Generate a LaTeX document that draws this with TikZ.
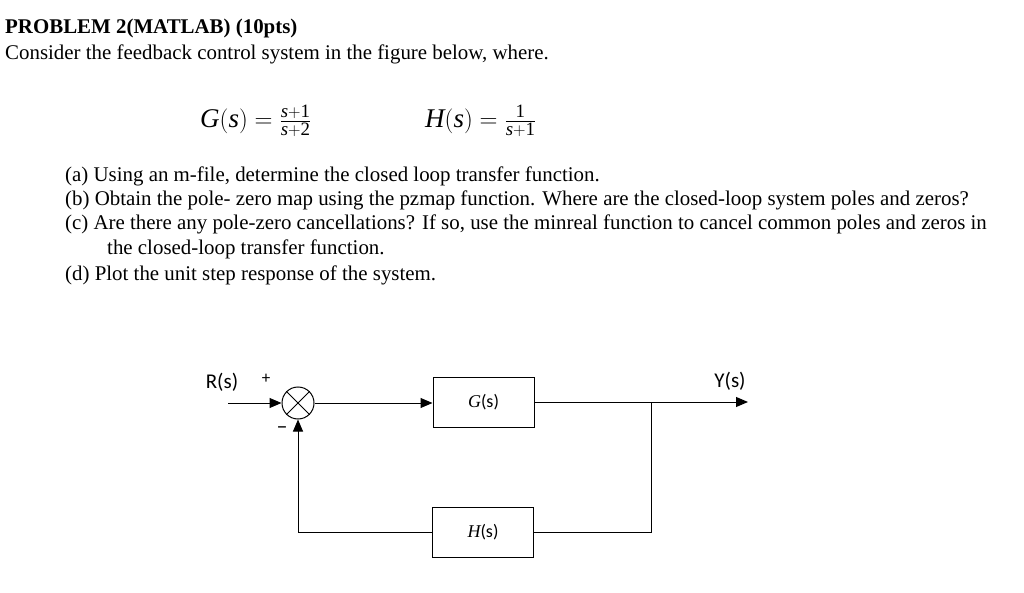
\documentclass[tikz,border=0pt]{standalone}
\usepackage{fontspec}
\setmainfont{Liberation Serif}
\newfontfamily\calibrifont{Carlito}
\usetikzlibrary{arrows.meta}
\begin{document}
\begin{tikzpicture}[x=1pt,y=-1pt,
  txt/.style={anchor=west,inner sep=0pt,font=\fontsize{20.9}{24}\selectfont},
  eq/.style={anchor=west,inner sep=0pt,font=\fontsize{27}{30}\selectfont},
  blk/.style={draw,line width=1pt,minimum width=101pt,minimum height=50pt,inner sep=0pt,font=\calibrifont\fontsize{18}{20}\selectfont},
  lbl/.style={inner sep=0pt,font=\calibrifont\fontsize{21}{24}\selectfont},
  ln/.style={line width=1pt},
  arr/.style={ln,-{Triangle[length=12pt,width=10pt]}}]
\useasboundingbox (0,0) rectangle (1024,593);
\node[txt,font=\bfseries\fontsize{20.9}{24}\selectfont] (t1) at (5,28) {PROBLEM 2(MATLAB) (10pts)};
\node[txt] (t2) at (5,54) {Consider the feedback control system in the figure below, where.};
\node[eq] (eg) at (200,121) {$\mathit{G}(\mathit{s}) = \frac{\mathit{s}\mathrm{+1}}{\mathit{s}\mathrm{+2}}$};
\node[eq] (eh) at (425,121) {$\mathit{H}(\mathit{s}) = \frac{\mathrm{1}}{\mathit{s}\mathrm{+1}}$};
\node[txt] (a) at (65,176) {(a) Using an m-file, determine the closed loop transfer function.};
\node[txt] (b) at (65,200) {(b) Obtain the pole- zero map using the pzmap function. Where are the closed-loop system poles and zeros?};
\node[txt] (c) at (65,224) {(c) Are there any pole-zero cancellations? If so, use the minreal function to cancel common poles and zeros in};
\node[txt] (c2) at (107,249) {the closed-loop transfer function.};
\node[txt] (d) at (65,275) {(d) Plot the unit step response of the system.};
% block diagram
\node[draw,circle,line width=1pt,minimum size=32pt,inner sep=0pt] (sum) at (298,403) {};
\draw[line width=1pt] (sum.45) -- (sum.225) (sum.135) -- (sum.-45);
\node[blk] (G) at (483.5,402) {$\mathit{G}$(s)};
\node[blk] (H) at (483,532) {$\mathit{H}$(s)};
\coordinate (in) at (228,403);
\coordinate (out) at (748,402);
\coordinate (tap) at (651,402);
\draw[arr] (in) -- (sum.west);
\draw[arr] (sum.east) -- (G.west |- sum.east);
\draw[arr] (G.east) -- (out);
\draw[ln] (tap) |- (H.east);
\draw[arr] (H.west) -| (sum.south);
\node[lbl] (R) at (222,382) {R(s)};
\node[lbl] (Y) at (730,381) {Y(s)};
\node[inner sep=0pt,font=\calibrifont\fontsize{17}{18}\selectfont] (plus) at (266,379) {+};
\node[inner sep=0pt,font=\calibrifont\fontsize{22}{22}\selectfont] (minus) at (282,430) {\textendash};
\end{tikzpicture}
\end{document}
